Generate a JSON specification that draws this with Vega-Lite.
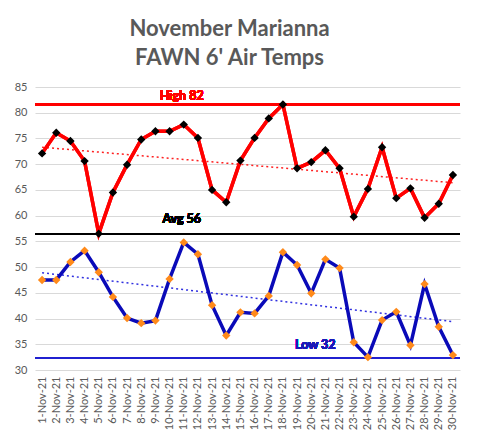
{
  "$schema": "https://vega.github.io/schema/vega-lite/v6.json",
  "autosize": "none",
  "width": 425,
  "height": 283,
  "padding": {"left": 35, "top": 87, "right": 20, "bottom": 70},
  "background": "white",
  "title": {
    "text": ["November Marianna", "FAWN 6' Air Temps"],
    "font": "Lato",
    "fontSize": 22,
    "fontWeight": "bold",
    "color": "#595959",
    "anchor": "middle",
    "lineHeight": 29,
    "offset": 11,
    "dx": -18
  },
  "config": {
    "view": {"stroke": null},
    "axis": {"labelFont": "Lato", "labelColor": "#595959", "labelFontSize": 11}
  },
  "datasets": {
    "temps": [
      {"day": 1, "date": "1-Nov-21", "high": 72.1, "low": 47.5},
      {"day": 2, "date": "2-Nov-21", "high": 76.1, "low": 47.5},
      {"day": 3, "date": "3-Nov-21", "high": 74.5, "low": 51.0},
      {"day": 4, "date": "4-Nov-21", "high": 70.6, "low": 53.2},
      {"day": 5, "date": "5-Nov-21", "high": 56.5, "low": 49.0},
      {"day": 6, "date": "6-Nov-21", "high": 64.5, "low": 44.2},
      {"day": 7, "date": "7-Nov-21", "high": 69.9, "low": 40.1},
      {"day": 8, "date": "8-Nov-21", "high": 74.8, "low": 39.1},
      {"day": 9, "date": "9-Nov-21", "high": 76.4, "low": 39.6},
      {"day": 10, "date": "10-Nov-21", "high": 76.4, "low": 47.7},
      {"day": 11, "date": "11-Nov-21", "high": 77.7, "low": 54.8},
      {"day": 12, "date": "12-Nov-21", "high": 75.1, "low": 52.5},
      {"day": 13, "date": "13-Nov-21", "high": 65.0, "low": 42.6},
      {"day": 14, "date": "14-Nov-21", "high": 62.6, "low": 36.7},
      {"day": 15, "date": "15-Nov-21", "high": 70.7, "low": 41.2},
      {"day": 16, "date": "16-Nov-21", "high": 75.1, "low": 41.0},
      {"day": 17, "date": "17-Nov-21", "high": 78.9, "low": 44.4},
      {"day": 18, "date": "18-Nov-21", "high": 81.6, "low": 52.9},
      {"day": 19, "date": "19-Nov-21", "high": 69.2, "low": 50.4},
      {"day": 20, "date": "20-Nov-21", "high": 70.4, "low": 44.9},
      {"day": 21, "date": "21-Nov-21", "high": 72.7, "low": 51.5},
      {"day": 22, "date": "22-Nov-21", "high": 69.2, "low": 49.8},
      {"day": 23, "date": "23-Nov-21", "high": 59.8, "low": 35.4},
      {"day": 24, "date": "24-Nov-21", "high": 65.2, "low": 32.5},
      {"day": 25, "date": "25-Nov-21", "high": 73.3, "low": 39.7},
      {"day": 26, "date": "26-Nov-21", "high": 63.4, "low": 41.3},
      {"day": 27, "date": "27-Nov-21", "high": 65.3, "low": 34.8},
      {"day": 28, "date": "28-Nov-21", "high": 59.6, "low": 46.7},
      {"day": 29, "date": "29-Nov-21", "high": 62.3, "low": 38.4},
      {"day": 30, "date": "30-Nov-21", "high": 67.9, "low": 32.9}
    ],
    "trend": [
      {"date": "1-Nov-21", "high": 73.3, "low": 48.9},
      {"date": "30-Nov-21", "high": 66.4, "low": 39.4}
    ]
  },
  "data": {"name": "temps"},
  "layer": [
    {
      "mark": {"type": "line", "color": "#FF0000", "strokeWidth": 3.5},
      "encoding": {
        "x": {"field": "date", "type": "ordinal", "sort": null,
          "scale": {"type": "point", "padding": 0.5, "domain": ["1-Nov-21","2-Nov-21","3-Nov-21","4-Nov-21","5-Nov-21","6-Nov-21","7-Nov-21","8-Nov-21","9-Nov-21","10-Nov-21","11-Nov-21","12-Nov-21","13-Nov-21","14-Nov-21","15-Nov-21","16-Nov-21","17-Nov-21","18-Nov-21","19-Nov-21","20-Nov-21","21-Nov-21","22-Nov-21","23-Nov-21","24-Nov-21","25-Nov-21","26-Nov-21","27-Nov-21","28-Nov-21","29-Nov-21","30-Nov-21"]},
          "axis": {"title": null, "labelAngle": -90, "labelOverlap": false, "grid": false, "ticks": false, "domain": false, "labelPadding": 6}},
        "y": {"field": "high", "type": "quantitative", "scale": {"domain": [30, 85], "nice": false, "zero": false},
          "axis": {"title": null, "values": [30,35,40,45,50,55,60,65,70,75,80,85], "tickCount": 12, "labelOverlap": false, "grid": true, "gridColor": "#d9d9d9", "ticks": false, "domain": false, "labelPadding": 8}}
      }
    },
    {
      "mark": {"type": "rule", "color": "#FF0000", "strokeWidth": 1.5},
      "encoding": {"y": {"datum": 81.6}}
    },
    {
      "mark": {"type": "rule", "color": "#000000", "strokeWidth": 1.5},
      "encoding": {"y": {"datum": 56.5}}
    },
    {
      "mark": {"type": "rule", "color": "#2020D0", "strokeWidth": 1.5},
      "encoding": {"y": {"datum": 32.3}}
    },
    {
      "data": {"name": "trend"},
      "mark": {"type": "line", "color": "#FF2020", "strokeWidth": 1.5, "strokeDash": [2, 3]},
      "encoding": {"x": {"field": "date", "type": "ordinal"}, "y": {"field": "high", "type": "quantitative"}}
    },
    {
      "data": {"name": "trend"},
      "mark": {"type": "line", "color": "#3030E0", "strokeWidth": 1.5, "strokeDash": [2, 3]},
      "encoding": {"x": {"field": "date", "type": "ordinal"}, "y": {"field": "low", "type": "quantitative"}}
    },
    {
      "mark": {"type": "line", "color": "#FF0000", "strokeWidth": 3.5},
      "encoding": {"x": {"field": "date", "type": "ordinal"}, "y": {"field": "high", "type": "quantitative"}}
    },
    {
      "mark": {"type": "point", "shape": "diamond", "filled": true, "color": "#000000", "size": 70, "opacity": 1},
      "encoding": {"x": {"field": "date", "type": "ordinal"}, "y": {"field": "high", "type": "quantitative"}}
    },
    {
      "mark": {"type": "line", "color": "#0A0AB8", "strokeWidth": 3.5},
      "encoding": {"x": {"field": "date", "type": "ordinal"}, "y": {"field": "low", "type": "quantitative"}}
    },
    {
      "mark": {"type": "point", "shape": "diamond", "filled": true, "color": "#FF8A1A", "size": 70, "opacity": 1},
      "encoding": {"x": {"field": "date", "type": "ordinal"}, "y": {"field": "low", "type": "quantitative"}}
    },
    {
      "mark": {"type": "text", "text": "High 82", "font": "Lato", "fontSize": 12.5, "fontWeight": "bold", "color": "#FF0000", "dx": -2, "baseline": "alphabetic"},
      "encoding": {"x": {"datum": "11-Nov-21"}, "y": {"datum": 82.4}}
    },
    {
      "mark": {"type": "text", "text": "Avg 56", "font": "Lato", "fontSize": 12.5, "fontWeight": "bold", "color": "#000000", "dx": -2, "baseline": "alphabetic"},
      "encoding": {"x": {"datum": "11-Nov-21"}, "y": {"datum": 58.6}}
    },
    {
      "mark": {"type": "text", "text": "Low 32", "font": "Lato", "fontSize": 12.5, "fontWeight": "bold", "color": "#1A1AB8", "dx": 4, "baseline": "alphabetic"},
      "encoding": {"x": {"datum": "20-Nov-21"}, "y": {"datum": 34.0}}
    }
  ]
}
